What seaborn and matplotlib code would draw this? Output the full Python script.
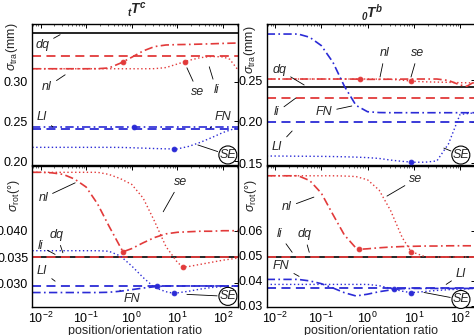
import matplotlib
matplotlib.use("Agg")
import matplotlib.pyplot as plt
import seaborn as sns
from matplotlib.ticker import FixedLocator, FixedFormatter, LogLocator, NullFormatter

# ------------------------------------------------------------------ data
# x = position/orientation ratio (log axis); shared read-off positions
ratio = [0.0066, 0.01, 0.0178, 0.0316, 0.0562, 0.1, 0.178, 0.316, 0.562, 1.0,
         1.78, 3.16, 5.62, 10.0, 17.8, 31.6, 56.2, 100.0, 214.0]

# ---- top-left panel (tT^c, sigma_tra)
tl_dq = 0.3616
tl_li = 0.332
tl_LI = 0.2405
tl_FN = 0.2425
tl_nl = [0.3165, 0.3165, 0.3165, 0.3165, 0.3165, 0.3165, 0.3166, 0.3175, 0.3235, 0.331,
         0.339, 0.3445, 0.3465, 0.347, 0.3472, 0.3476, 0.348, 0.3485, 0.349]
tl_se_x = [0.0066, 0.01, 0.0178, 0.0316, 0.0562, 0.1, 0.178, 0.316, 0.562, 1.0,
           1.78, 3.16, 5.62, 10.0, 17.8, 31.6, 56.2, 100.0, 141.0, 214.0]
tl_se = [0.3165, 0.3165, 0.3165, 0.3165, 0.3165, 0.3165, 0.3165, 0.3165, 0.3165, 0.3165,
         0.3165, 0.3166, 0.318, 0.3225, 0.327, 0.3305, 0.332, 0.3315, 0.3285, 0.315]
tl_SE = [0.2173, 0.2173, 0.2173, 0.2173, 0.2173, 0.2173, 0.2173, 0.2173, 0.2172, 0.2168,
         0.2163, 0.2158, 0.2154, 0.2153, 0.2185, 0.2235, 0.2295, 0.236, 0.2425]
tl_mark_red_x = [0.646, 14.8]
tl_mark_red_y = [0.3253, 0.3256]
tl_mark_blue_x = [1.12, 8.51]
tl_mark_blue_y = [0.2425, 0.2153]

# ---- top-right panel (0T^b, sigma_tra)
tr_dq = 0.2412
tr_li = 0.2287
tr_LI = 0.1995
tr_FN = [0.3054, 0.3054, 0.3054, 0.3054, 0.3015, 0.2915, 0.2715, 0.2425, 0.2195, 0.2118,
         0.2108, 0.2106, 0.2106, 0.2106, 0.2106, 0.2106, 0.2106, 0.2106, 0.2106]
tr_nl_x = tl_se_x
tr_nl = [0.2512, 0.2512, 0.2512, 0.2512, 0.2512, 0.2512, 0.2512, 0.2512, 0.2511, 0.2508,
         0.2508, 0.251, 0.2511, 0.2512, 0.2512, 0.2512, 0.2495, 0.244, 0.2425, 0.2485]
tr_se = [0.2512, 0.2512, 0.2512, 0.2512, 0.2512, 0.2512, 0.2512, 0.2512, 0.2512, 0.2512,
         0.2511, 0.2508, 0.2498, 0.2485, 0.2478, 0.2475, 0.2472, 0.2468, 0.2465]
tr_SE = [0.1584, 0.1584, 0.1583, 0.1582, 0.1581, 0.158, 0.1578, 0.1575, 0.1571, 0.1565,
         0.1555, 0.1535, 0.152, 0.1509, 0.151, 0.1525, 0.173, 0.2085, 0.2106]
tr_mark_red_x = [0.69, 8.71]
tr_mark_red_y = [0.2508, 0.2488]
tr_mark_blue_x = [8.71]
tr_mark_blue_y = [0.1509]

# ---- bottom-left panel (tT^c, sigma_rot)
bl_dq = 0.035
bl_li = 0.035
bl_LI = 0.0295
bl_nl_x = [0.0066, 0.01, 0.0178, 0.0316, 0.0562, 0.1, 0.178, 0.316, 0.562, 0.646, 1.0,
           1.78, 3.16, 5.62, 10.0, 17.8, 31.6, 56.2, 100.0, 214.0]
bl_nl = [0.0511, 0.0511, 0.051, 0.0507, 0.0498, 0.0483, 0.0451, 0.0409, 0.0369, 0.036, 0.0366,
         0.0377, 0.0387, 0.0394, 0.0397, 0.0398, 0.0399, 0.0399, 0.04, 0.04]
bl_se_x = [0.0066, 0.01, 0.0178, 0.0316, 0.0562, 0.1, 0.178, 0.316, 0.562, 1.0,
           1.78, 3.16, 5.62, 10.0, 13.2, 17.8, 31.6, 56.2, 100.0, 214.0]
bl_se = [0.0511, 0.0511, 0.0511, 0.0511, 0.0511, 0.0511, 0.0511, 0.0507, 0.0499, 0.0488,
         0.0462, 0.0418, 0.037, 0.034, 0.0331, 0.0332, 0.0336, 0.034, 0.0344, 0.0348]
bl_FN_x = [0.0066, 0.01, 0.0178, 0.0316, 0.0562, 0.1, 0.178, 0.316, 0.562, 1.0,
           1.78, 3.55, 5.62, 10.0, 17.8, 31.6, 56.2, 100.0, 214.0]
bl_FN = [0.02825, 0.02825, 0.02825, 0.02825, 0.02825, 0.02825, 0.02825, 0.0283, 0.0285, 0.0288,
         0.0291, 0.0294, 0.0295, 0.0295, 0.0295, 0.0295, 0.0295, 0.0295, 0.0295]
bl_SE_x = [0.0066, 0.01, 0.0178, 0.0316, 0.0562, 0.1, 0.178, 0.316, 0.562, 1.0,
           1.78, 3.16, 5.62, 8.51, 17.8, 31.6, 56.2, 100.0, 214.0]
bl_SE = [0.0362, 0.0362, 0.0362, 0.0362, 0.0362, 0.0362, 0.0362, 0.0361, 0.0352, 0.0333,
         0.0311, 0.0292, 0.0284, 0.0281, 0.0285, 0.0289, 0.0292, 0.0294, 0.0295]
bl_mark_red_x = [0.646, 13.2]
bl_mark_red_y = [0.036, 0.0331]
bl_mark_blue_x = [3.55, 8.51]
bl_mark_blue_y = [0.0294, 0.0281]

# ---- bottom-right panel (0T^b, sigma_rot)
br_dq = 0.0497
br_li = 0.0494
br_LI = 0.037
br_nl_x = [0.0066, 0.01, 0.0178, 0.0316, 0.0562, 0.1, 0.178, 0.316, 0.562, 0.661, 1.0,
           1.78, 3.16, 5.62, 10.0, 17.8, 31.6, 56.2, 100.0, 214.0]
br_nl = [0.0819, 0.0819, 0.0819, 0.0819, 0.08, 0.075, 0.0665, 0.0583, 0.0531, 0.0526, 0.0528,
         0.0532, 0.0535, 0.0537, 0.0538, 0.0539, 0.0539, 0.054, 0.054, 0.054]
br_se_x = [0.0066, 0.01, 0.0178, 0.0316, 0.0562, 0.1, 0.178, 0.316, 0.562, 1.0,
           1.78, 3.16, 5.62, 8.71, 17.8, 31.6, 56.2, 100.0, 214.0]
br_se = [0.0819, 0.0819, 0.0819, 0.0819, 0.0819, 0.0819, 0.0819, 0.0818, 0.0816, 0.0803,
         0.0762, 0.068, 0.0573, 0.0517, 0.0496, 0.0495, 0.0495, 0.0495, 0.0495]
br_FN_x = [0.0066, 0.01, 0.0178, 0.0316, 0.0562, 0.1, 0.178, 0.316, 0.562, 1.0,
           1.78, 3.72, 5.62, 10.0, 17.8, 31.6, 56.2, 100.0, 214.0]
br_FN = [0.0406, 0.0406, 0.0406, 0.0406, 0.04, 0.0389, 0.0372, 0.0353, 0.034, 0.0347,
         0.0357, 0.0366, 0.0369, 0.037, 0.037, 0.037, 0.037, 0.037, 0.037]
br_SE_x = br_se_x
br_SE = [0.0386, 0.0386, 0.0386, 0.0386, 0.0386, 0.0386, 0.0386, 0.0386, 0.0386, 0.0386,
         0.0381, 0.037, 0.0359, 0.0353, 0.0358, 0.0362, 0.0365, 0.0367, 0.037]
br_mark_red_x = [0.661, 8.71]
br_mark_red_y = [0.0526, 0.0517]
br_mark_blue_x = [3.72, 8.71]
br_mark_blue_y = [0.0366, 0.0353]

# tick labels
xlim = (0.0066, 214.0)
tl_yticks = [0.20, 0.25, 0.30]
tl_ylabels = ["0.20", "0.25", "0.30"]
tr_yticks = [0.15, 0.20, 0.25]
tr_ylabels = ["0.15", "0.20", "0.25"]
bl_yticks = [0.030, 0.035, 0.040]
bl_ylabels = ["0.030", "0.035", "0.040"]
br_yticks = [0.03, 0.04, 0.05, 0.06]
br_ylabels = ["0.03", "0.04", "0.05", "0.06"]

# ------------------------------------------------------------------ style
sns.set_style("white")
plt.rcParams["font.family"] = ["Liberation Sans", "DejaVu Sans"]
plt.rcParams["mathtext.fontset"] = "custom"
plt.rcParams["mathtext.rm"] = "Liberation Sans"
plt.rcParams["mathtext.it"] = "Liberation Sans:italic"
plt.rcParams["mathtext.bf"] = "Liberation Sans:bold"
plt.rcParams["mathtext.bfit"] = "Liberation Sans:italic:bold"

RED = "#e23a3a"
BLUE = "#2b2bd6"
DASH = (0, (5, 3))
DASHDOT = (0, (5, 2, 1, 2))
DOT = (0, (1, 1.8))

W, H = 474, 335
fig = plt.figure(figsize=(W / 100, H / 100), dpi=100)


def axes_px(x0, y0, x1, y1):
    return fig.add_axes([x0 / W, 1 - y1 / H, (x1 - x0) / W, (y1 - y0) / H])


ax_tl = axes_px(32.3, 24, 238, 165)
ax_tr = axes_px(266.7, 24, 475.3, 165)
ax_bl = axes_px(32.3, 166, 238, 307)
ax_br = axes_px(266.7, 166, 475.3, 307)


def curve(ax, x, y, color, ls, lw):
    sns.lineplot(x=x, y=y, ax=ax, color=color, linestyle=ls, linewidth=lw,
                 estimator=None, sort=False, legend=False)


def hline(ax, v, color, ls, lw):
    ax.axhline(v, color=color, linestyle=ls, linewidth=lw)


def marks(ax, x, y, color):
    sns.scatterplot(x=x, y=y, ax=ax, color=color, marker="o", s=12,
                    edgecolor=color, linewidth=0.6, zorder=5, legend=False)


def note(ax, text, xy, off, circled=False):
    bbox = None
    if circled:
        bbox = dict(boxstyle="circle,pad=0.05", fc="white", ec="black", lw=0.8)
    ax.annotate(text, xy=xy, xytext=(off[0] * 0.72, -off[1] * 0.72),
                textcoords="offset points", ha="center", va="center",
                fontsize=9, style="italic", bbox=bbox, annotation_clip=False,
                arrowprops=dict(arrowstyle="-", lw=0.6, color="black",
                                shrinkA=1, shrinkB=0), zorder=6)


def setup(ax, ylim, yticks, ylabels, show_x):
    ax.set_xscale("log")
    ax.set_xlim(*xlim)
    ax.set_ylim(*ylim)
    ax.yaxis.set_major_locator(FixedLocator(yticks))
    ax.yaxis.set_major_formatter(FixedFormatter(ylabels))
    ax.xaxis.set_major_locator(LogLocator(base=10, numticks=10))
    ax.xaxis.set_minor_locator(LogLocator(base=10, subs=range(2, 10), numticks=10))
    ax.xaxis.set_minor_formatter(NullFormatter())
    ax.tick_params(which="major", direction="in", length=3, width=0.7,
                   top=True, right=True, labelsize=9, pad=3, colors="black")
    ax.tick_params(which="minor", direction="in", length=1.6, width=0.5,
                   top=True, right=True)
    if not show_x:
        ax.tick_params(axis="x", which="both", labelbottom=False)
    for s in ax.spines.values():
        s.set_color("black")
        s.set_linewidth(1.0)
    ax.set_ylabel("")
    ax.set_xlabel("")


# ---- top-left
ax = ax_tl
hline(ax, tl_dq, "black", "-", 1.2)
hline(ax, tl_li, RED, DASH, 1.3)
curve(ax, ratio, tl_nl, RED, DASHDOT, 1.2)
curve(ax, tl_se_x, tl_se, RED, DOT, 1.0)
hline(ax, tl_LI, BLUE, DASH, 1.3)
hline(ax, tl_FN, BLUE, DASHDOT, 1.2)
curve(ax, ratio, tl_SE, BLUE, DOT, 1.0)
marks(ax, tl_mark_red_x, tl_mark_red_y, RED)
marks(ax, tl_mark_blue_x, tl_mark_blue_y, BLUE)
setup(ax, (0.195, 0.373), tl_yticks, tl_ylabels, False)
note(ax, "dq", (10 ** -1.57, 0.3595), (-18, 10))
note(ax, "nl", (10 ** -1.46, 0.3089), (-18, 12))
note(ax, "se", (10 ** 1.21, 0.3177), (11, 24))
note(ax, "li", (10 ** 1.70, 0.319), (7, 23))
note(ax, "LI", (10 ** -1.73, 0.243), (-11, -10))
note(ax, "FN", (10 ** 1.72, 0.2418), (13, -11))
note(ax, "SE", (10 ** 1.45, 0.2203), (30, 10), True)

# ---- top-right
ax = ax_tr
hline(ax, tr_dq, "black", "-", 1.2)
hline(ax, tr_li, RED, DASH, 1.3)
curve(ax, tr_nl_x, tr_nl, RED, DASHDOT, 1.2)
curve(ax, ratio, tr_se, RED, DOT, 1.0)
hline(ax, tr_LI, BLUE, DASH, 1.3)
curve(ax, ratio, tr_FN, BLUE, DASHDOT, 1.2)
curve(ax, ratio, tr_SE, BLUE, DOT, 1.0)
marks(ax, tr_mark_red_x, tr_mark_red_y, RED)
marks(ax, tr_mark_blue_x, tr_mark_blue_y, BLUE)
setup(ax, (0.1476, 0.3175), tr_yticks, tr_ylabels, False)
note(ax, "nl", (10 ** 0.27, 0.2536), (5, -24))
note(ax, "se", (10 ** 0.94, 0.2536), (7, -24))
note(ax, "dq", (10 ** -1.37, 0.244), (-25, -15))
note(ax, "li", (10 ** -1.55, 0.2283), (-19, 14))
note(ax, "FN", (10 ** -0.34, 0.2187), (-28, 6))
note(ax, "LI", (10 ** -1.63, 0.1886), (-15, 16))
note(ax, "SE", (10 ** 1.65, 0.168), (17, 7), True)

# ---- bottom-left
ax = ax_bl
hline(ax, bl_dq, "black", "-", 1.2)
hline(ax, bl_li, RED, DASH, 1.3)
curve(ax, bl_nl_x, bl_nl, RED, DASHDOT, 1.2)
curve(ax, bl_se_x, bl_se, RED, DOT, 1.0)
hline(ax, bl_LI, BLUE, DASH, 1.3)
curve(ax, bl_FN_x, bl_FN, BLUE, DASHDOT, 1.2)
curve(ax, bl_SE_x, bl_SE, BLUE, DOT, 1.0)
marks(ax, bl_mark_red_x, bl_mark_red_y, RED)
marks(ax, bl_mark_blue_x, bl_mark_blue_y, BLUE)
setup(ax, (0.0255, 0.0523), bl_yticks, bl_ylabels, True)
note(ax, "nl", (10 ** -1.24, 0.0491), (-32, 15))
note(ax, "se", (10 ** 0.69, 0.0436), (17, -30))
note(ax, "dq", (10 ** -1.51, 0.0358), (-6, -18))
note(ax, "li", (10 ** -1.68, 0.0355), (-15, -8))
note(ax, "LI", (10 ** -1.68, 0.0304), (-13, -10))
note(ax, "FN", (10 ** -0.26, 0.0287), (12, 9))
note(ax, "SE", (10 ** 1.21, 0.0279), (41, 2), True)
ax.set_xlabel("position/orientation ratio", fontsize=9, labelpad=-1)

# ---- bottom-right
ax = ax_br
hline(ax, br_dq, "black", "-", 1.2)
hline(ax, br_li, RED, DASH, 1.3)
curve(ax, br_nl_x, br_nl, RED, DASHDOT, 1.2)
curve(ax, br_se_x, br_se, RED, DOT, 1.0)
hline(ax, br_LI, BLUE, DASH, 1.3)
curve(ax, br_FN_x, br_FN, BLUE, DASHDOT, 1.2)
curve(ax, br_SE_x, br_SE, BLUE, DOT, 1.0)
marks(ax, br_mark_red_x, br_mark_red_y, RED)
marks(ax, br_mark_blue_x, br_mark_blue_y, BLUE)
setup(ax, (0.0296, 0.0858), br_yticks, br_ylabels, True)
note(ax, "se", (10 ** 0.42, 0.0738), (29, -17))
note(ax, "nl", (10 ** -1.16, 0.0734), (-27, 10))
note(ax, "li", (10 ** -1.63, 0.0514), (-13, -18))
note(ax, "dq", (10 ** -1.26, 0.0514), (-5, -18))
note(ax, "FN", (10 ** -1.48, 0.0418), (-18, -10))
note(ax, "LI", (10 ** 1.70, 0.0386), (15, -10))
note(ax, "SE", (10 ** 1.22, 0.0354), (37, 7), True)
ax.set_xlabel("position/orientation ratio", fontsize=9, labelpad=-1)

# y labels and titles
fig.text(12 / W, 1 - 47 / H, r"$\sigma_{\rm tra}$(mm)", rotation=90, ha="center", va="center", fontsize=9)
fig.text(250 / W, 1 - 50 / H, r"$\sigma_{\rm tra}$(mm)", rotation=90, ha="center", va="center", fontsize=9)
fig.text(14 / W, 1 - 196 / H, r"$\sigma_{\rm rot}$(°)", rotation=90, ha="center", va="center", fontsize=9)
fig.text(251 / W, 1 - 196 / H, r"$\sigma_{\rm rot}$(°)", rotation=90, ha="center", va="center", fontsize=9)
fig.text(137 / W, 1 - 10 / H, r"${}_{\mathbfit{t}}\mathbfit{T}^{\mathbfit{c}}$", ha="center", va="center", fontsize=10)
fig.text(372 / W, 1 - 13 / H, r"${}_{\mathbfit{0}}\mathbfit{T}^{\mathbfit{b}}$", ha="center", va="center", fontsize=10)

fig.savefig("out.png", dpi=100)
